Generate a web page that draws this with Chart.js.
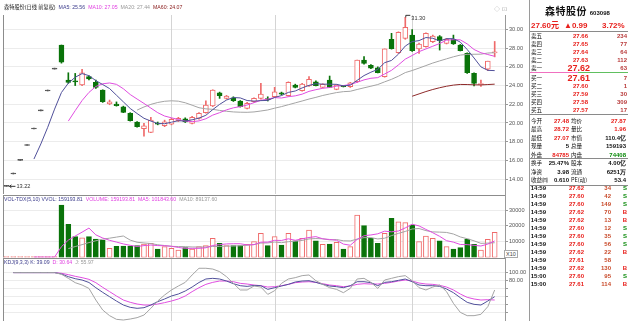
<!DOCTYPE html>
<html lang="zh-CN">

<head>
  <meta charset="UTF-8">
  <meta name="viewport" content="width=device-width, initial-scale=1.0">
  <title>森特股份 | 日线</title>
  <!-- Chart.js desenha os tres paineis (preco, volume, KDJ) -->
  <script src="https://cdn.jsdelivr.net/npm/chart.js"></script>
  <style>
    body { margin: 0; background: #fff; }
    #tela { position: relative; width: 628px; height: 321px; overflow: hidden; background: #fff;
      font-family: "Liberation Sans", Arial, "Noto Sans CJK SC", sans-serif; }
    #tela canvas { position: absolute; left: 0; }
    .legenda { position: absolute; left: 4px; font-size: 5.2px; line-height: 7px; white-space: nowrap; color: #222; }
    .legenda span { margin-right: 3px; }
    #icones { position: absolute; left: 494px; top: 6px; font-size: 6px; line-height: 7px; color: #aaa; }
    #x10 { position: absolute; left: 504px; top: 250px; font-size: 5.5px; line-height: 6px; color: #444; border: 1px solid #aaa; padding: 0 1px; background: #fff; }
    #painel { position: absolute; left: 529px; top: 0; width: 98px; height: 321px; border-left: 1px solid #9a9a9a; }
    #nome { position: absolute; left: 15px; top: 5px; font-family: "Noto Sans CJK SC", sans-serif; font-size: 10px; line-height: 12px; font-weight: bold; color: #111; letter-spacing: 0.5px; white-space: nowrap; }
    #nome small { font-family: "Liberation Sans", Arial, sans-serif; font-size: 6px; letter-spacing: 0; }
    #cotacao span { position: absolute; top: 21px; font-weight: bold; font-size: 8px; line-height: 9px; color: #e8201c; white-space: nowrap; }
    .linha { position: absolute; left: 0; width: 98px; height: 8px; line-height: 8px; font-size: 6px; white-space: nowrap; }
    .linha span { position: absolute; top: 0; }
    .rot { left: 1px; font-family: "Noto Sans CJK SC", sans-serif; font-size: 5.6px; color: #111; }
    .num { font-family: "Liberation Sans Narrow", "Liberation Sans", Arial, sans-serif; font-weight: bold; text-align: right; width: 34px; }
    .sep { position: absolute; left: 0; width: 98px; height: 1px; background: #8a8a8a; }
  </style>
</head>

<body>
  <div id="tela">
    <canvas id="graficoPreco" width="530" height="195" style="top:0"></canvas>
    <canvas id="graficoVolume" width="530" height="63" style="top:195px"></canvas>
    <canvas id="graficoKdj" width="530" height="63" style="top:258px"></canvas>

    <div class="legenda" style="top:4px">
      <span>森特股份(日线 前复权)</span><span style="color:#3c3c8c">MA5: 25.56</span><span style="color:#e040e0">MA10: 27.05</span><span style="color:#999">MA20: 27.44</span><span style="color:#8c2020">MA60: 24.07</span>
    </div>
    <div class="legenda" style="top:196px">
      <span style="color:#3c3c8c">VOL-TDX(5,10) VVOL: 159193.81</span><span style="color:#e040e0">VOLUME: 159193.81</span><span style="color:#e040e0">MA5: 101843.60</span><span style="color:#999">MA10: 89137.60</span>
    </div>
    <div class="legenda" style="top:259px">
      <span style="color:#3c3c8c">KDJ(9,3,3) K: 39.09</span><span style="color:#e040e0">D: 30.64</span><span style="color:#999">J: 55.97</span>
    </div>
    <div id="icones">◇ ⊡</div>
    <div id="x10">X10</div>

    <div id="painel">
      <div id="nome">森特股份 <small>603098</small></div>
      <div id="cotacao">
        <span style="left:1px">27.60元</span>
        <span style="left:34px">▲0.99</span>
        <span style="left:72px">3.72%</span>
      </div>
    </div>
  </div>
</body>

</html>
<script>
  // ---- dados (72 pregoes + 1 espaco vazio a direita) ----
  const dias = Array.from({ length: 73 }, (_, i) => i < 72 ? 'D' + (i + 1) : '');

  const abertura = [13.22, 14.54, 15.99, 17.59, 19.35, 21.29, 23.42, 25.76, 28.34, 24.60,
    24.45, 24.06, 24.95, 24.35, 23.52, 22.05, 22.02, 21.73, 21.03, 20.10,
    19.40, 19.00, 20.00, 19.70, 19.88, 20.24, 20.45, 19.96, 20.49, 21.10,
    21.81, 23.23, 22.63, 22.70, 22.34, 21.56, 22.27, 22.63, 22.60, 22.80,
    23.23, 22.91, 24.06, 23.45, 23.95, 24.41, 23.81, 24.60, 23.60, 23.95,
    23.88, 24.41, 26.73, 26.17, 25.91, 24.95, 28.95, 27.52, 29.05, 29.41,
    27.91, 28.16, 28.69, 29.23, 28.52, 28.95, 28.34, 27.45, 25.31, 24.10,
    25.75, 27.48];
  const maxima = [13.22, 14.54, 15.99, 17.59, 19.35, 21.29, 23.42, 25.76, 28.34, 25.37,
    25.30, 25.74, 25.05, 24.60, 23.55, 22.45, 22.25, 21.80, 21.10, 20.15,
    19.96, 20.60, 20.10, 20.30, 20.50, 20.60, 20.55, 20.70, 21.10, 22.38,
    23.55, 23.30, 22.95, 22.80, 22.40, 22.20, 22.70, 24.24, 22.80, 23.81,
    23.30, 24.40, 24.15, 24.25, 24.95, 24.50, 24.20, 25.02, 24.10, 24.00,
    24.35, 26.73, 27.09, 26.25, 26.00, 27.92, 29.59, 29.75, 31.30, 30.00,
    28.55, 29.65, 29.40, 29.35, 29.05, 29.40, 28.40, 27.50, 25.35, 24.60,
    26.61, 28.72];
  const minima = [13.22, 14.54, 15.99, 17.59, 19.35, 21.29, 23.42, 25.76, 26.40, 24.24,
    24.00, 24.00, 24.60, 23.70, 22.20, 21.95, 21.80, 21.10, 20.20, 19.55,
    18.60, 18.95, 19.80, 19.60, 19.80, 20.15, 20.05, 19.90, 20.40, 21.05,
    21.75, 22.63, 22.55, 22.30, 21.70, 21.50, 22.20, 22.55, 22.35, 22.75,
    23.00, 22.85, 23.75, 23.40, 23.90, 23.95, 23.75, 23.80, 23.55, 23.85,
    23.80, 24.35, 26.30, 25.80, 25.35, 24.90, 27.90, 27.45, 28.95, 27.65,
    27.45, 28.10, 28.60, 27.80, 28.45, 28.40, 27.70, 25.30, 23.95, 23.90,
    25.60, 27.07];
  const fechamento = [13.22, 14.54, 15.99, 17.59, 19.35, 21.29, 23.42, 25.76, 26.50, 24.35,
    24.40, 25.37, 24.70, 23.81, 22.27, 22.25, 21.84, 21.13, 20.24, 19.60,
    19.70, 20.31, 19.88, 20.13, 20.39, 20.49, 20.10, 20.60, 21.03, 21.90,
    23.52, 22.91, 22.88, 22.38, 21.73, 22.10, 22.63, 23.09, 22.50, 23.34,
    23.09, 24.35, 23.81, 24.17, 24.67, 23.98, 24.13, 23.81, 24.06, 23.88,
    24.30, 26.73, 26.38, 25.85, 25.38, 27.92, 27.94, 29.70, 30.23, 27.73,
    28.45, 29.59, 29.30, 28.80, 28.95, 28.45, 27.73, 25.38, 24.24, 24.19,
    26.61, 27.60];

  const ma5 = [null, null, null, null,
    16.14, 17.75, 19.53, 21.48, 23.26, 24.26, 24.89, 25.28, 25.06, 24.53,
    24.11, 23.68, 22.97, 22.26, 21.55, 21.01, 20.50, 20.20, 19.95, 19.92,
    20.08, 20.24, 20.20, 20.34, 20.52, 20.82, 21.43, 21.99, 22.45, 22.72,
    22.68, 22.40, 22.34, 22.39, 22.41, 22.73, 22.93, 23.27, 23.42, 23.75,
    24.02, 24.20, 24.15, 24.15, 24.13, 23.97, 24.04, 24.56, 25.07, 25.43,
    25.73, 26.45, 26.69, 27.36, 28.23, 28.70, 28.81, 29.14, 29.06, 28.77,
    29.02, 29.02, 28.65, 27.86, 26.95, 26.00, 25.63, 25.60];
  const ma10 = [null, null, null, null, null, null, null, null, null,
    20.20, 21.32, 22.40, 23.27, 23.90, 24.19, 24.28, 24.13, 23.66, 23.04,
    22.56, 22.09, 21.59, 21.10, 20.74, 20.55, 20.37, 20.20, 20.14, 20.22,
    20.45, 20.84, 21.10, 21.40, 21.62, 21.75, 21.92, 22.17, 22.42, 22.56,
    22.71, 22.67, 22.81, 22.90, 23.08, 23.38, 23.56, 23.71, 23.79, 23.94,
    24.00, 24.12, 24.35, 24.61, 24.78, 24.85, 25.24, 25.63, 26.21, 26.83,
    27.22, 27.63, 27.92, 28.21, 28.50, 28.86, 28.91, 28.89, 28.46, 27.86,
    27.51, 27.32, 27.13];
  const ma20 = [null, null, null, null, null, null, null, null, null, null,
    null, null, null, null, null, null, null, null, null,
    21.38, 21.71, 21.99, 22.19, 22.32, 22.37, 22.33, 22.16, 21.90, 21.63,
    21.51, 21.46, 21.34, 21.25, 21.18, 21.15, 21.14, 21.18, 21.28, 21.39,
    21.58, 21.75, 21.95, 22.15, 22.35, 22.56, 22.74, 22.94, 23.10, 23.25,
    23.35, 23.39, 23.58, 23.76, 23.93, 24.11, 24.40, 24.67, 25.00, 25.39,
    25.61, 25.87, 26.14, 26.41, 26.64, 26.86, 27.08, 27.26, 27.34, 27.35,
    27.36, 27.48, 27.52];
  const ma60 = [null, null, null, null, null, null, null, null, null, null,
    null, null, null, null, null, null, null, null, null, null,
    null, null, null, null, null, null, null, null, null, null,
    null, null, null, null, null, null, null, null, null, null,
    null, null, null, null, null, null, null, null, null, null,
    null, null, null, null, null, null, null, null, null,
    22.86, 23.11, 23.36, 23.58, 23.77, 23.93, 24.05, 24.12, 24.11, 24.08,
    24.07, 24.11, 24.15];

  // volume em unidades do eixo (x10)
  const volume = [250, 250, 250, 250, 250, 250, 250, 250, 33160, 20970,
    13160, 12500, 13160, 11680, 11050, 5790, 7050, 7260, 7260, 7470,
    8530, 8950, 5370, 6840, 5790, 4740, 6210, 5370, 6840, 7470,
    12100, 8950, 7470, 7470, 7470, 8320, 10000, 15260, 7470, 13160,
    7890, 15260, 10600, 12100, 17370, 10600, 8320, 8530, 9580, 5370,
    6840, 26800, 20100, 12100, 8950, 15260, 24700, 22600, 22000, 20500,
    10000, 13580, 12100, 10600, 6840, 5370, 6210, 11680, 8320, 4740,
    11470, 15919];
  const volMa5 = [null, null, null, null,
    250, 250, 250, 250, 6830, 10980, 13560, 16010, 18590, 14290,
    12310, 10840, 9750, 8570, 7680, 6970, 7510, 7890, 7520, 7430,
    7100, 6340, 5790, 5790, 5790, 6130, 7600, 8150, 8570, 8690,
    8690, 7940, 8150, 9700, 9700, 10840, 10760, 11810, 10880, 11800,
    12640, 13190, 11800, 11380, 10880, 8480, 7730, 11420, 13740, 14240,
    14960, 16640, 16220, 16720, 18700, 21010, 19960, 17740, 15640, 13360,
    10620, 9700, 8220, 8140, 7680, 7260, 8480, 10430];
  const volMa10 = [null, null, null, null, null, null, null, null, null,
    5610, 6900, 8130, 9420, 10560, 11640, 12200, 12880, 13580, 10990,
    9640, 9180, 8820, 8040, 7560, 7030, 6930, 6840, 6650, 6610,
    6610, 6970, 6970, 7180, 7240, 7410, 7770, 8150, 9140, 9200,
    9770, 9350, 9980, 10290, 10750, 11740, 11970, 11800, 11130, 11340,
    10560, 10460, 11610, 12560, 12560, 11720, 12190, 13820, 15230, 16470,
    17990, 18300, 16980, 16180, 16030, 15820, 14830, 12980, 11890, 10520,
    8940, 9090, 9330];

  const kdjK = [null, 100, 100, 100, 100, 100, 100, 100, 96.6, 89.7,
    84.6, 81.3, 75.0, 61.8, 50.0, 39.0, 28.0, 18.0, 12.1, 9.6,
    11.2, 18.0, 26.4, 33.2, 40.8, 45.8, 53.4, 63.5, 75.0, 83.8,
    85.5, 83.8, 78.7, 72.0, 66.9, 65.2, 67.4, 66.9, 57.6, 61.8,
    66.1, 70.3, 76.2, 78.7, 79.5, 75.3, 70.3, 66.1, 64.4, 61.8,
    66.9, 77.0, 77.0, 74.5, 66.9, 75.3, 77.0, 80.4, 83.8, 77.0,
    68.6, 66.9, 66.9, 65.2, 58.5, 49.2, 36.6, 24.8, 19.7, 18.0,
    28.1, 39.1];
  const kdjD = [null, 100, 100, 100, 100, 100, 100, 100, 98.3, 94.9,
    90.6, 87.2, 83.0, 74.5, 62.7, 51.8, 40.8, 30.6, 24.8, 20.5,
    18.0, 18.0, 20.5, 24.0, 28.1, 33.2, 40.8, 51.8, 61.8, 70.3,
    75.3, 78.7, 78.7, 77.0, 72.8, 71.1, 68.6, 66.9, 63.5, 64.4,
    66.9, 70.3, 74.5, 76.2, 77.0, 75.3, 71.9, 68.6, 66.9, 64.4,
    66.1, 70.3, 71.9, 71.1, 71.1, 72.8, 75.3, 78.7, 81.3, 78.7,
    73.6, 71.1, 70.3, 67.8, 63.5, 56.0, 45.8, 37.4, 33.2, 30.6,
    31.5, 30.6];
  const kdjJ = [null, 100, 100, 100, 100, 100, 100, 100, 95.8, 85.5,
    74.5, 68.6, 60.0, 30.6, 5.3, -9.0, -18.3, -20.0, -17.5, -14.0,
    -7.4, 9.6, 28.1, 43.3, 56.0, 66.1, 75.3, 94.0, 111.0, 111.0,
    109.0, 102.5, 89.8, 72.8, 56.0, 56.0, 66.1, 63.5, 44.9, 54.3,
    72.8, 83.8, 87.2, 92.3, 94.0, 79.5, 70.3, 61.8, 57.6, 49.2,
    60.1, 83.8, 85.5, 75.3, 60.1, 81.3, 85.5, 89.8, 92.3, 79.5,
    61.8, 56.0, 63.5, 68.6, 51.8, 22.2, -0.6, -9.0, -9.0, -5.6,
    13.8, 56.0];

  // rotulos dos eixos
  const precoTicks = [14, 16, 18, 20, 22, 24, 26, 28, 30];
  const volTicks = [10000, 20000, 30000];
  const kdjTicks = [0, 20, 40, 60, 80, 100];
  const kdjRotulos = ['', '', '', '', '80.00', '100.00'];
  // pregoes com linha vertical (virada de mes)
  const separadores = [24, 39, 59];

  // painel de cotacao
  const livroVenda = [['卖五', '27.66', '234'], ['卖四', '27.65', '77'], ['卖三', '27.64', '64'], ['卖二', '27.63', '112'], ['卖一', '27.62', '63']];
  const livroCompra = [['买一', '27.61', '7'], ['买二', '27.60', '1'], ['买三', '27.59', '30'], ['买四', '27.58', '309'], ['买五', '27.57', '17']];
  const resumo = [['今开', '27.48', '均价', '27.87'], ['最高', '28.72', '量比', '1.96'], ['最低', '27.07', '市值', '110.4亿'],
    ['现量', '5', '总量', '159193'], ['外盘', '84785', '内盘', '74408']];
  const resumo2 = [['换手', '25.47%', '股本', '4.00亿'], ['净资', '3.98', '流通', '6251万'], ['收益㈣', '0.610', 'PE(动)', '53.4']];
  const negocios = [['14:59', '27.62', '34', 'S'], ['14:59', '27.60', '42', 'S'], ['14:59', '27.60', '149', 'S'], ['14:59', '27.62', '70', 'B'],
    ['14:59', '27.62', '13', 'B'], ['14:59', '27.60', '12', 'S'], ['14:59', '27.60', '35', 'S'], ['14:59', '27.60', '56', 'S'],
    ['14:59', '27.62', '22', 'B'], ['14:59', '27.61', '58', ''], ['14:59', '27.62', '130', 'B'], ['15:00', '27.60', '95', 'S'], ['15:00', '27.61', '114', 'B']];

  // ---- cores ----
  const corAlta = '#ef6a6a';
  const corBaixa = '#0a730a';
  const corNeutra = '#555555';
  const corMa5 = '#50509a';
  const corMa10 = '#e04ee0';
  const corMa20 = '#a4a4a4';
  const corMa60 = '#8e2a2a';

  // candles: corpo = [abertura, fechamento], pavio = [minima, maxima]
  let corpos = [];
  let pavios = [];
  let coresCandle = [];
  let fundosCandle = [];
  for (let i = 0; i < abertura.length; i++) {
    corpos.push([abertura[i], fechamento[i]]);
    pavios.push([minima[i], maxima[i]]);
    let cor = fechamento[i] > abertura[i] ? corAlta : (fechamento[i] < abertura[i] ? corBaixa : corNeutra);
    coresCandle.push(cor);
    fundosCandle.push(fechamento[i] > abertura[i] ? '#ffffff' : cor);
  }
  let coresVolume = [];
  let fundosVolume = [];
  for (let i = 0; i < volume.length; i++) {
    let alta = fechamento[i] >= abertura[i];
    coresVolume.push(alta ? corAlta : corBaixa);
    fundosVolume.push(alta ? '#ffffff' : corBaixa);
  }

  // linhas verticais + borda esquerda + borda de cima do painel
  const pluginGrade = {
    id: 'grade',
    beforeDatasetsDraw(chart, args, opts) {
      const { ctx, chartArea, scales } = chart;
      ctx.save();
      ctx.lineWidth = 1;
      ctx.strokeStyle = '#d4d4d4';
      separadores.forEach(function (i) {
        let x = Math.round(scales.x.getPixelForValue(i)) + 0.5;
        ctx.beginPath();
        ctx.moveTo(x, chartArea.top);
        ctx.lineTo(x, chartArea.bottom);
        ctx.stroke();
      });
      ctx.strokeStyle = '#8c8c8c';
      ctx.beginPath();
      ctx.moveTo(chartArea.left + 0.5, chartArea.top);
      ctx.lineTo(chartArea.left + 0.5, chartArea.bottom);
      if (opts.topo) {
        ctx.moveTo(chartArea.left, chartArea.top + 0.5);
        ctx.lineTo(chartArea.right, chartArea.top + 0.5);
      }
      ctx.stroke();
      ctx.restore();
    }
  };

  // marca a maxima e a minima do periodo
  const pluginExtremos = {
    id: 'extremos',
    afterDatasetsDraw(chart) {
      const { ctx, scales } = chart;
      let iMax = maxima.indexOf(Math.max(...maxima));
      let iMin = minima.indexOf(Math.min(...minima));
      ctx.save();
      ctx.strokeStyle = '#333';
      ctx.fillStyle = '#333';
      ctx.lineWidth = 1;
      ctx.font = '5.6px "Liberation Sans", Arial';
      ctx.textBaseline = 'middle';

      let x = scales.x.getPixelForValue(iMax);
      let y = scales.y.getPixelForValue(maxima[iMax]);
      ctx.beginPath();
      ctx.moveTo(x + 0.5, y);
      ctx.lineTo(x + 0.5, y - 2);
      ctx.lineTo(x + 5, y - 2);
      ctx.stroke();
      ctx.fillText(maxima[iMax].toFixed(2), x + 6, y + 1);

      x = scales.x.getPixelForValue(iMin);
      y = scales.y.getPixelForValue(minima[iMin]);
      ctx.beginPath();
      ctx.moveTo(x + 3, y);
      ctx.lineTo(x + 9, y);
      ctx.moveTo(x + 3, y);
      ctx.lineTo(x + 5, y - 1.5);
      ctx.moveTo(x + 3, y);
      ctx.lineTo(x + 5, y + 1.5);
      ctx.stroke();
      ctx.fillText(minima[iMin].toFixed(2), x + 10, y);
      ctx.restore();
    }
  };

  function linha(rotulo, dados, cor) {
    return { type: 'line', label: rotulo, data: dados, borderColor: cor, borderWidth: 1, pointRadius: 0, fill: false, tension: 0, order: 0 };
  }

  function eixoY(min, max, ticks, rotulos) {
    return {
      position: 'right',
      min: min,
      max: max,
      afterBuildTicks: function (s) { s.ticks = ticks.map(function (v) { return { value: v }; }); },
      // largura fixa e sem a folga que o Chart.js reserva para os rotulos das pontas
      afterFit: function (s) { s.width = 25; s.paddingTop = 0; s.paddingBottom = 0; },
      ticks: {
        callback: rotulos,
        autoSkip: false,
        font: { size: 5.6, family: '"Liberation Sans", Arial' },
        color: '#555',
        padding: 1
      },
      grid: { color: '#ececec', tickLength: 3, tickColor: '#999' },
      border: { color: '#9a9a9a' }
    };
  }

  const baseOpcoes = {
    responsive: false,
    animation: false,
    devicePixelRatio: 1,
    events: [],
    plugins: { legend: { display: false }, tooltip: { enabled: false }, grade: {} }
  };

  // grafico de preco (candles + medias)
  new Chart(document.getElementById('graficoPreco'), {
    type: 'bar',
    data: {
      labels: dias,
      datasets: [
        linha('MA5', ma5, corMa5),
        linha('MA10', ma10, corMa10),
        linha('MA20', ma20, corMa20),
        linha('MA60', ma60, corMa60),
        {
          label: 'corpo', data: corpos, backgroundColor: fundosCandle, borderColor: coresCandle, borderWidth: 1,
          borderSkipped: false, barThickness: 5, minBarLength: 1, grouped: false, order: 1
        },
        {
          label: 'pavio', data: pavios, backgroundColor: coresCandle, borderWidth: 0,
          barThickness: 1, minBarLength: 1, grouped: false, order: 2
        }
      ]
    },
    options: Object.assign({}, baseOpcoes, {
      layout: { padding: { left: 3, right: 0, top: 15, bottom: 1 } },
      scales: {
        x: { display: false, offset: true },
        y: eixoY(12.4, 31.55, precoTicks, function (v) { return v.toFixed(2); })
      }
    }),
    plugins: [pluginGrade, pluginExtremos]
  });

  // grafico de volume
  new Chart(document.getElementById('graficoVolume'), {
    type: 'bar',
    data: {
      labels: dias,
      datasets: [
        linha('MA5', volMa5, corMa10),
        linha('MA10', volMa10, corMa20),
        {
          label: 'VOLUME', data: volume, backgroundColor: fundosVolume, borderColor: coresVolume, borderWidth: 1,
          borderSkipped: false, barThickness: 5, minBarLength: 1, order: 1
        }
      ]
    },
    options: Object.assign({}, baseOpcoes, {
      layout: { padding: { left: 3, right: 0, top: 0, bottom: 0.5 } },
      plugins: { legend: { display: false }, tooltip: { enabled: false }, grade: { topo: true } },
      scales: {
        x: { display: false, offset: true },
        y: eixoY(0, 39474, volTicks, function (v) { return String(v); })
      }
    }),
    plugins: [pluginGrade]
  });

  // grafico KDJ
  new Chart(document.getElementById('graficoKdj'), {
    type: 'line',
    data: {
      labels: dias,
      datasets: [
        linha('J', kdjJ, corMa20),
        linha('K', kdjK, corMa5),
        linha('D', kdjD, corMa10)
      ]
    },
    options: Object.assign({}, baseOpcoes, {
      layout: { padding: { left: 3, right: 0, top: 0, bottom: 0 } },
      plugins: { legend: { display: false }, tooltip: { enabled: false }, grade: { topo: true } },
      scales: {
        x: { display: false, offset: true },
        y: eixoY(-22.5, 137, kdjTicks, function (v, i) { return kdjRotulos[i]; })
      }
    }),
    plugins: [pluginGrade]
  });

  // ---- painel de cotacao a direita ----
  const painel = document.getElementById('painel');
  const vermelho = '#e8201c';
  const verde = '#0a8a0a';

  function addLinha(topo, partes) {
    let div = document.createElement('div');
    div.className = 'linha';
    div.style.top = topo + 'px';
    partes.forEach(function (p) {
      let s = document.createElement('span');
      s.className = p.classe;
      s.textContent = p.texto;
      if (p.esq !== undefined) s.style.left = p.esq + 'px';
      if (p.cor) s.style.color = p.cor;
      if (p.tam) s.style.fontSize = p.tam + 'px';
      div.appendChild(s);
    });
    painel.appendChild(div);
  }

  function addSep(topo, cor, esq, larg) {
    let d = document.createElement('div');
    d.className = 'sep';
    d.style.top = topo + 'px';
    if (cor) d.style.background = cor;
    if (esq !== undefined) d.style.left = esq + 'px';
    if (larg !== undefined) d.style.width = larg + 'px';
    painel.appendChild(d);
  }

  addSep(31);
  livroVenda.forEach(function (l, k) {
    let grande = k === 4;
    addLinha(31.5 + k * 8, [
      { classe: 'rot', texto: l[0] },
      { classe: 'num', texto: l[1], esq: grande ? 26 : 24, cor: vermelho, tam: grande ? 9 : undefined },
      { classe: 'num', texto: l[2], esq: 63, cor: '#b83a3a' }
    ]);
  });
  addSep(72, '#f070c0', 0, 48);
  addSep(72, '#60c060', 48, 50);
  livroCompra.forEach(function (l, k) {
    let grande = k === 0;
    addLinha(73.5 + k * 8, [
      { classe: 'rot', texto: l[0] },
      { classe: 'num', texto: l[1], esq: grande ? 26 : 24, cor: vermelho, tam: grande ? 9 : undefined },
      { classe: 'num', texto: l[2], esq: 63, cor: '#b83a3a' }
    ]);
  });
  addSep(114);
  const coresResumo = [[vermelho, vermelho], [vermelho, vermelho], [vermelho, '#111'], ['#111', '#111'], [vermelho, verde]];
  resumo.forEach(function (l, k) {
    addLinha(116.5 + k * 8.5, [
      { classe: 'rot', texto: l[0] },
      { classe: 'num', texto: l[1], esq: 5, cor: coresResumo[k][0] },
      { classe: 'rot', texto: l[2], esq: 41 },
      { classe: 'num', texto: l[3], esq: 62, cor: coresResumo[k][1] }
    ]);
  });
  addSep(158);
  resumo2.forEach(function (l, k) {
    addLinha(159 + k * 8.5, [
      { classe: 'rot', texto: l[0] },
      { classe: 'num', texto: l[1], esq: 5, cor: '#111' },
      { classe: 'rot', texto: l[2], esq: 41 },
      { classe: 'num', texto: l[3], esq: 62, cor: '#111' }
    ]);
  });
  addSep(184.5);
  negocios.forEach(function (l, k) {
    addLinha(183.5 + k * 8, [
      { classe: 'num', texto: l[0], esq: -18, cor: '#111' },
      { classe: 'num', texto: l[1], esq: 20, cor: vermelho },
      { classe: 'num', texto: l[2], esq: 47, cor: '#c84a2a' },
      { classe: 'num', texto: l[3], esq: 63, cor: l[3] === 'B' ? vermelho : verde }
    ]);
  });
</script>
